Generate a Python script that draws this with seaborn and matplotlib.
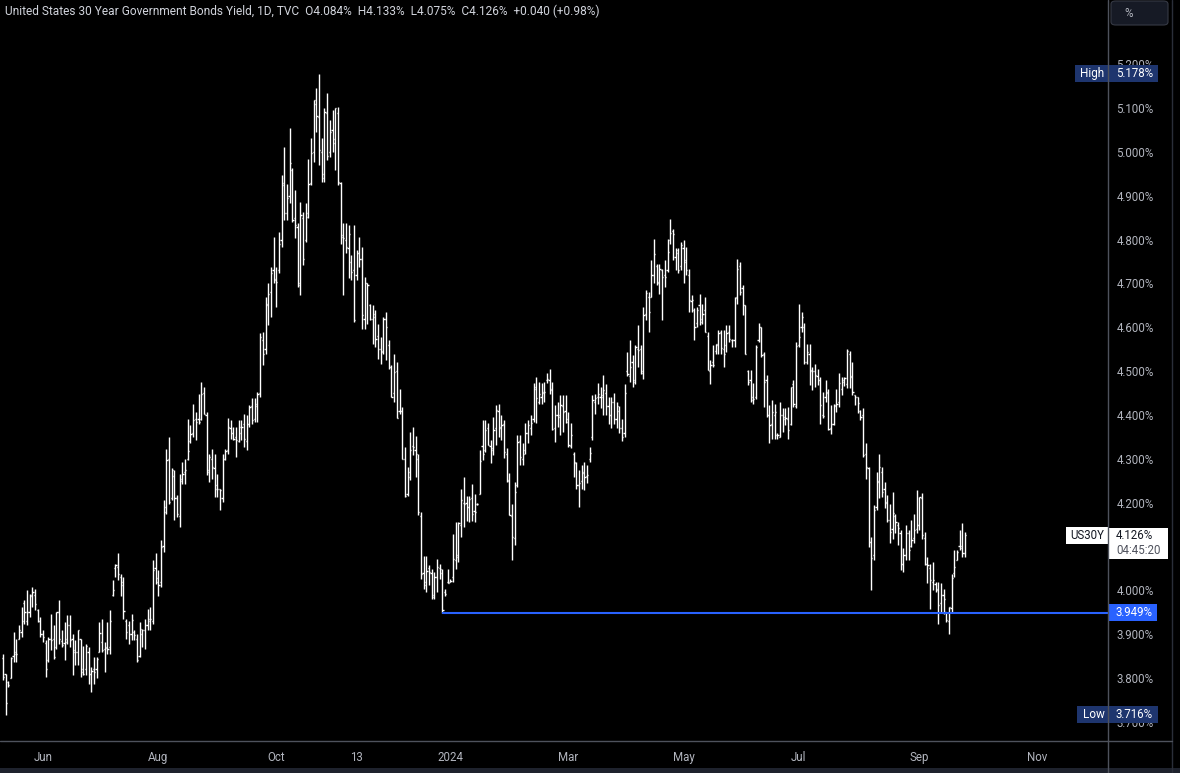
import pandas as pd
import matplotlib.pyplot as plt
import matplotlib.transforms as mtransforms
from matplotlib.lines import Line2D
from matplotlib.patches import Rectangle, FancyBboxPatch
import seaborn as sns

# Daily OHLC of the US 30Y yield (TVC), May 2023 - Sep 2024
opens = [
    3.845, 3.81, 3.79, 3.80, 3.85, 3.86, 3.89, 3.905, 3.97, 3.93, 3.95, 3.99, 3.99, 3.955, 3.931,
    3.90, 3.88, 3.84, 3.89, 3.89, 3.87, 3.95, 3.885, 3.88, 3.89, 3.92, 3.89, 3.86, 3.86, 3.89,
    3.82, 3.82, 3.86, 3.81, 3.82, 3.82, 3.86, 3.882, 3.865, 3.87, 3.87, 3.99, 4.05, 4.053, 4.03,
    4.02, 3.93, 3.92, 3.90, 3.905, 3.89, 3.85, 3.90, 3.91, 3.92, 3.93, 3.93, 4.05, 4.02, 4.02,
    4.10, 4.19, 4.30, 4.21, 4.26, 4.21, 4.17, 4.25, 4.27, 4.30, 4.34, 4.36, 4.39, 4.39, 4.39,
    4.45, 4.40, 4.27, 4.30, 4.28, 4.24, 4.23, 4.21, 4.30, 4.32, 4.37, 4.36, 4.35, 4.34,
    4.36, 4.38, 4.34, 4.38, 4.42, 4.39, 4.42, 4.45, 4.57, 4.55, 4.65, 4.68, 4.73, 4.71, 4.73,
    4.80, 4.93, 4.86, 4.90, 4.96, 4.85, 4.83, 4.70, 4.85, 4.80, 4.86, 4.93, 5.00, 5.11, 5.08,
    5.00, 4.95, 5.09, 5.00, 5.05, 5.03, 5.09, 4.93, 4.81, 4.80, 4.78, 4.75, 4.73, 4.72, 4.77,
    4.757, 4.62, 4.70, 4.65, 4.62, 4.63, 4.58, 4.55, 4.545, 4.62, 4.56, 4.51, 4.45, 4.50, 4.41,
    4.41, 4.30, 4.22, 4.27, 4.33, 4.32, 4.30, 4.17, 4.04, 4.02, 4.05, 4.04, 3.99, 4.03, 4.05,
    4.04, 3.995, 4.02, 4.02, 4.03, 4.07, 4.08, 4.15, 4.20, 4.20, 4.19, 4.21, 4.18, 4.197, 4.22,
    4.33, 4.32, 4.37, 4.33, 4.32, 4.37, 4.41, 4.37, 4.38, 4.31, 4.25, 4.17, 4.12, 4.24, 4.34,
    4.30, 4.32, 4.36, 4.37, 4.39, 4.46, 4.43, 4.44, 4.45, 4.48, 4.48, 4.46, 4.37, 4.40, 4.40,
    4.42, 4.41, 4.39, 4.33, 4.31, 4.29, 4.24, 4.25, 4.27, 4.26, 4.30, 4.35, 4.43, 4.44,
    4.44, 4.44, 4.45, 4.42, 4.40, 4.43, 4.39, 4.41, 4.37, 4.36, 4.50, 4.49, 4.52, 4.48, 4.55,
    4.55, 4.50, 4.63, 4.67, 4.67, 4.72, 4.74, 4.70, 4.73, 4.72, 4.73, 4.80, 4.82, 4.76, 4.77,
    4.74, 4.78, 4.75, 4.72, 4.66, 4.64, 4.61, 4.65, 4.62, 4.64, 4.58, 4.50, 4.52, 4.545, 4.56,
    4.59, 4.55, 4.56, 4.59, 4.57, 4.57, 4.67, 4.74, 4.69, 4.65, 4.50, 4.48, 4.44, 4.44, 4.57,
    4.60, 4.54, 4.48, 4.40, 4.38, 4.40, 4.355, 4.35, 4.40, 4.39, 4.39, 4.38, 4.47, 4.42, 4.56,
    4.60, 4.60, 4.52, 4.54, 4.50, 4.50, 4.49, 4.48, 4.40, 4.44, 4.45, 4.37, 4.38, 4.42, 4.43,
    4.46, 4.48, 4.47, 4.54, 4.49, 4.445, 4.44, 4.41, 4.40, 4.31, 4.28, 4.11, 4.08, 4.19, 4.25,
    4.27, 4.23, 4.20, 4.16, 4.14, 4.17, 4.15, 4.13, 4.06, 4.08, 4.13, 4.10, 4.12, 4.14, 4.15,
    4.21, 4.12, 4.06, 4.05, 4.02, 4.015, 4.00, 3.97, 3.99, 3.95, 3.93, 3.96, 4.04, 4.07, 4.10,
    4.10, 4.084,
]
highs = [
    3.855, 3.81, 3.794, 3.848, 3.905, 3.888, 3.92, 3.962, 3.977, 4.001, 3.992, 4.007, 4.004, 3.958, 3.939,
    3.909, 3.886, 3.893, 3.947, 3.92, 3.95, 3.977, 3.909, 3.928, 3.943, 3.943, 3.90, 3.886, 3.91, 3.89,
    3.874, 3.878, 3.87, 3.825, 3.848, 3.848, 3.928, 3.935, 3.882, 3.928, 3.954, 4.023, 4.061, 4.086, 4.038,
    4.03, 3.935, 3.931, 3.947, 3.909, 3.901, 3.928, 3.912, 3.935, 3.958, 3.962, 4.07, 4.084, 4.046, 4.114,
    4.205, 4.323, 4.35, 4.278, 4.274, 4.217, 4.266, 4.293, 4.30, 4.39, 4.377, 4.426, 4.407, 4.449, 4.476,
    4.464, 4.407, 4.312, 4.323, 4.312, 4.266, 4.232, 4.312, 4.323, 4.392, 4.388, 4.373, 4.373, 4.388,
    4.388, 4.403, 4.40, 4.422, 4.438, 4.438, 4.453, 4.586, 4.59, 4.67, 4.70, 4.738, 4.807, 4.738, 4.818,
    4.947, 5.012, 4.928, 5.054, 4.963, 4.913, 4.837, 4.887, 4.864, 4.883, 4.985, 5.031, 5.119, 5.145, 5.178,
    5.031, 5.10, 5.134, 5.073, 5.096, 5.10, 5.103, 4.932, 4.837, 4.837, 4.833, 4.765, 4.833, 4.776, 4.807,
    4.783, 4.715, 4.70, 4.654, 4.65, 4.639, 4.608, 4.578, 4.624, 4.635, 4.57, 4.513, 4.54, 4.521, 4.46,
    4.418, 4.327, 4.281, 4.361, 4.372, 4.353, 4.312, 4.178, 4.079, 4.079, 4.057, 4.049, 4.041, 4.072, 4.06,
    4.049, 4.003, 4.049, 4.025, 4.129, 4.156, 4.156, 4.232, 4.258, 4.216, 4.216, 4.243, 4.22, 4.20, 4.319,
    4.388, 4.388, 4.381, 4.343, 4.396, 4.423, 4.426, 4.40, 4.388, 4.324, 4.267, 4.198, 4.248, 4.354, 4.354,
    4.335, 4.381, 4.388, 4.40, 4.472, 4.487, 4.476, 4.472, 4.476, 4.495, 4.504, 4.476, 4.423, 4.43, 4.445,
    4.445, 4.445, 4.407, 4.381, 4.316, 4.293, 4.274, 4.286, 4.293, 4.286, 4.327, 4.445, 4.449, 4.472,
    4.464, 4.491, 4.47, 4.44, 4.44, 4.45, 4.43, 4.42, 4.39, 4.47, 4.544, 4.57, 4.536, 4.559, 4.605,
    4.559, 4.646, 4.685, 4.681, 4.753, 4.802, 4.745, 4.745, 4.734, 4.753, 4.802, 4.846, 4.825, 4.78, 4.78,
    4.795, 4.80, 4.783, 4.734, 4.673, 4.643, 4.646, 4.677, 4.654, 4.669, 4.589, 4.525, 4.559, 4.563, 4.593,
    4.594, 4.594, 4.605, 4.605, 4.574, 4.67, 4.757, 4.75, 4.696, 4.651, 4.502, 4.502, 4.472, 4.559, 4.609,
    4.601, 4.544, 4.491, 4.422, 4.434, 4.426, 4.359, 4.43, 4.415, 4.415, 4.418, 4.464, 4.479, 4.567, 4.654,
    4.635, 4.609, 4.563, 4.563, 4.51, 4.517, 4.506, 4.487, 4.453, 4.479, 4.46, 4.422, 4.426, 4.46, 4.495,
    4.487, 4.487, 4.55, 4.545, 4.522, 4.446, 4.442, 4.411, 4.415, 4.335, 4.282, 4.122, 4.194, 4.271, 4.312,
    4.282, 4.248, 4.217, 4.198, 4.225, 4.175, 4.156, 4.137, 4.096, 4.149, 4.137, 4.16, 4.175, 4.229, 4.214,
    4.221, 4.134, 4.076, 4.061, 4.065, 4.019, 4.019, 4.016, 4.004, 3.951, 3.962, 4.038, 4.092, 4.092, 4.137,
    4.153, 4.133,
]
lows = [
    3.795, 3.716, 3.779, 3.80, 3.836, 3.836, 3.89, 3.893, 3.924, 3.92, 3.939, 3.962, 3.954, 3.928, 3.893,
    3.882, 3.802, 3.836, 3.863, 3.844, 3.865, 3.878, 3.87, 3.84, 3.878, 3.87, 3.806, 3.829, 3.829, 3.802,
    3.806, 3.806, 3.787, 3.768, 3.787, 3.80, 3.859, 3.859, 3.813, 3.855, 3.855, 3.988, 4.03, 4.023, 3.988,
    3.935, 3.89, 3.878, 3.886, 3.886, 3.836, 3.848, 3.87, 3.867, 3.909, 3.909, 3.924, 4.015, 3.988, 4.007,
    4.087, 4.175, 4.198, 4.205, 4.16, 4.167, 4.145, 4.243, 4.243, 4.297, 4.335, 4.35, 4.342, 4.38, 4.388,
    4.403, 4.262, 4.247, 4.255, 4.213, 4.213, 4.183, 4.202, 4.297, 4.312, 4.346, 4.342, 4.304, 4.339,
    4.342, 4.327, 4.32, 4.373, 4.38, 4.384, 4.384, 4.441, 4.514, 4.54, 4.605, 4.624, 4.70, 4.647, 4.723,
    4.784, 4.845, 4.845, 4.883, 4.841, 4.803, 4.693, 4.673, 4.742, 4.795, 4.849, 4.925, 4.978, 5.046, 4.97,
    4.932, 4.932, 4.982, 4.989, 5.001, 4.959, 4.925, 4.791, 4.673, 4.769, 4.712, 4.708, 4.613, 4.708, 4.738,
    4.597, 4.597, 4.608, 4.616, 4.563, 4.555, 4.528, 4.517, 4.54, 4.525, 4.506, 4.441, 4.43, 4.392, 4.403,
    4.30, 4.213, 4.216, 4.251, 4.308, 4.258, 4.171, 4.026, 4.003, 3.996, 4.011, 3.98, 3.98, 3.996, 4.026,
    3.949, 3.988, 4.016, 4.019, 4.019, 4.049, 4.064, 4.121, 4.144, 4.159, 4.156, 4.159, 4.156, 4.195, 4.22,
    4.297, 4.316, 4.331, 4.29, 4.308, 4.331, 4.35, 4.343, 4.301, 4.248, 4.171, 4.069, 4.103, 4.236, 4.286,
    4.286, 4.312, 4.335, 4.354, 4.385, 4.381, 4.426, 4.426, 4.43, 4.472, 4.449, 4.366, 4.339, 4.373, 4.354,
    4.362, 4.381, 4.327, 4.324, 4.259, 4.232, 4.19, 4.232, 4.229, 4.244, 4.293, 4.343, 4.403, 4.426,
    4.415, 4.40, 4.40, 4.38, 4.37, 4.38, 4.37, 4.36, 4.34, 4.35, 4.49, 4.475, 4.464, 4.471, 4.51,
    4.494, 4.483, 4.616, 4.589, 4.669, 4.70, 4.696, 4.677, 4.616, 4.692, 4.726, 4.791, 4.753, 4.73, 4.723,
    4.73, 4.70, 4.719, 4.635, 4.635, 4.57, 4.601, 4.605, 4.608, 4.589, 4.502, 4.471, 4.51, 4.54, 4.54,
    4.54, 4.51, 4.544, 4.567, 4.555, 4.555, 4.654, 4.673, 4.628, 4.54, 4.468, 4.43, 4.426, 4.437, 4.567,
    4.533, 4.418, 4.396, 4.335, 4.346, 4.346, 4.346, 4.35, 4.361, 4.377, 4.346, 4.377, 4.418, 4.415, 4.555,
    4.59, 4.517, 4.517, 4.468, 4.456, 4.464, 4.468, 4.38, 4.392, 4.43, 4.365, 4.357, 4.377, 4.407, 4.418,
    4.446, 4.465, 4.461, 4.461, 4.446, 4.423, 4.404, 4.389, 4.305, 4.255, 4.099, 4.00, 4.069, 4.183, 4.21,
    4.214, 4.187, 4.156, 4.107, 4.118, 4.13, 4.103, 4.046, 4.042, 4.069, 4.069, 4.099, 4.107, 4.13, 4.137,
    4.118, 4.057, 4.016, 3.958, 4.00, 3.997, 3.924, 3.951, 3.947, 3.928, 3.901, 3.951, 4.031, 4.069, 4.092,
    4.076, 4.075,
]
closes = [
    3.802, 3.743, 3.785, 3.846, 3.855, 3.855, 3.909, 3.931, 3.95, 3.95, 3.988, 3.996, 3.969, 3.931, 3.90,
    3.893, 3.821, 3.89, 3.886, 3.848, 3.95, 3.89, 3.875, 3.882, 3.92, 3.886, 3.863, 3.859, 3.909, 3.813,
    3.81, 3.872, 3.81, 3.816, 3.813, 3.844, 3.902, 3.863, 3.869, 3.867, 3.931, 4.001, 4.057, 4.038, 4.011,
    3.953, 3.905, 3.901, 3.933, 3.897, 3.842, 3.912, 3.91, 3.92, 3.935, 3.935, 4.046, 4.027, 4.011, 4.099,
    4.179, 4.297, 4.202, 4.274, 4.21, 4.173, 4.255, 4.265, 4.274, 4.318, 4.356, 4.388, 4.384, 4.384, 4.449,
    4.403, 4.274, 4.304, 4.281, 4.232, 4.232, 4.228, 4.30, 4.318, 4.373, 4.358, 4.346, 4.342, 4.373,
    4.373, 4.346, 4.38, 4.419, 4.388, 4.426, 4.449, 4.578, 4.54, 4.654, 4.677, 4.723, 4.708, 4.704, 4.791,
    4.925, 4.86, 4.894, 4.974, 4.845, 4.833, 4.696, 4.856, 4.757, 4.852, 4.927, 4.997, 5.119, 5.082, 5.005,
    4.94, 5.092, 4.99, 5.046, 5.02, 5.10, 4.932, 4.807, 4.803, 4.784, 4.814, 4.727, 4.616, 4.769, 4.757,
    4.627, 4.70, 4.696, 4.62, 4.624, 4.574, 4.551, 4.544, 4.62, 4.601, 4.51, 4.441, 4.498, 4.392, 4.41,
    4.30, 4.216, 4.258, 4.319, 4.327, 4.312, 4.178, 4.038, 4.011, 4.045, 4.041, 3.984, 4.03, 4.053, 4.049,
    3.954, 3.992, 4.016, 4.022, 4.072, 4.076, 4.153, 4.205, 4.196, 4.19, 4.209, 4.175, 4.178, 4.197, 4.296,
    4.312, 4.366, 4.331, 4.324, 4.366, 4.411, 4.373, 4.377, 4.316, 4.251, 4.171, 4.122, 4.225, 4.339, 4.305,
    4.312, 4.358, 4.377, 4.381, 4.464, 4.438, 4.449, 4.453, 4.453, 4.481, 4.457, 4.369, 4.40, 4.396, 4.423,
    4.407, 4.385, 4.331, 4.354, 4.293, 4.24, 4.244, 4.267, 4.259, 4.263, 4.314, 4.434, 4.438, 4.449,
    4.445, 4.457, 4.42, 4.40, 4.43, 4.39, 4.42, 4.37, 4.35, 4.45, 4.494, 4.51, 4.475, 4.555, 4.548,
    4.496, 4.627, 4.678, 4.635, 4.719, 4.768, 4.704, 4.734, 4.715, 4.715, 4.772, 4.815, 4.814, 4.776, 4.73,
    4.787, 4.753, 4.73, 4.663, 4.662, 4.601, 4.64, 4.612, 4.631, 4.589, 4.502, 4.513, 4.513, 4.561, 4.586,
    4.552, 4.54, 4.586, 4.574, 4.572, 4.666, 4.734, 4.681, 4.651, 4.54, 4.476, 4.434, 4.437, 4.555, 4.60,
    4.536, 4.476, 4.40, 4.377, 4.407, 4.407, 4.354, 4.40, 4.396, 4.392, 4.365, 4.464, 4.426, 4.557, 4.578,
    4.624, 4.521, 4.544, 4.502, 4.501, 4.491, 4.479, 4.422, 4.397, 4.453, 4.369, 4.379, 4.422, 4.426, 4.472,
    4.476, 4.484, 4.545, 4.487, 4.453, 4.442, 4.427, 4.395, 4.309, 4.282, 4.111, 4.073, 4.183, 4.248, 4.282,
    4.225, 4.202, 4.16, 4.134, 4.177, 4.156, 4.141, 4.061, 4.08, 4.13, 4.092, 4.115, 4.137, 4.149, 4.214,
    4.126, 4.061, 4.057, 4.023, 4.023, 4.004, 3.966, 3.989, 3.981, 3.932, 3.962, 4.027, 4.054, 4.088, 4.096,
    4.086, 4.126,
]

last_date = '2024-09-25'
support_level = 3.949
support_start = '2023-12-27'

month_labels = ['Jun', 'Aug', 'Oct', '13', '2024', 'Mar', 'May', 'Jul', 'Sep', 'Nov']
month_dates = ['2023-06-01', '2023-08-01', '2023-10-02', '2023-11-13', '2024-01-01',
               '2024-03-01', '2024-05-01', '2024-07-01', '2024-09-02', '2024-11-01']
price_ticks = [5.2, 5.1, 5.0, 4.9, 4.8, 4.7, 4.6, 4.5, 4.4, 4.3, 4.2, 4.0, 3.9, 3.8, 3.7]

title = 'United States 30 Year Government Bonds Yield, 1D, TVC'
ohlc_text = 'O4.084%  H4.133%  L4.075%  C4.126%  +0.040 (+0.98%)'
symbol = 'US30Y'
countdown = '04:45:20'

# ---- data frame ----
dates = pd.bdate_range(end=last_date, periods=len(closes))
df = pd.DataFrame({'date': dates, 'open': opens, 'high': highs, 'low': lows, 'close': closes})
df['i'] = range(len(df))

sns.set_theme(style='dark', rc={'axes.facecolor': 'black', 'figure.facecolor': 'black'})
plt.rcParams['font.family'] = ['Roboto', 'DejaVu Sans']

W, H = 1180, 773
TXT = '#b2b5be'
SEP = '#4e525c'
BLUE = '#2962ff'

fig = plt.figure(figsize=(W / 100, H / 100), dpi=100, facecolor='black')
ax = fig.add_axes([0, 32 / H, 1108 / W, 741 / H])
ax.set_facecolor('black')

# OHLC bars
ax.vlines(df['i'], df['low'], df['high'], color='white', lw=1.0)
ax.hlines(df['open'], df['i'] - 0.45, df['i'], color='white', lw=1.0)
ax.hlines(df['close'], df['i'], df['i'] + 0.45, color='white', lw=1.0)

# scales: 2.68 px per bar, 438.3 px per 1%
px_bar = 2.68
px_val = 438.3
ax.set_xlim(-2.88 / px_bar, (1108 - 2.88) / px_bar)
ax.set_ylim(5.0 - 589 / px_val, 5.0 + 152 / px_val)

# support line from the December low
s_idx = dates.get_loc(pd.Timestamp(support_start))
ax.hlines(support_level, s_idx, ax.get_xlim()[1], color=BLUE, lw=1.5)

# time axis
full_days = pd.bdate_range(start=dates[0], periods=len(dates) + 80)
xpos = full_days.searchsorted(pd.to_datetime(month_dates))
ax.set_xticks(xpos)
ax.set_xticklabels(month_labels)
ax.tick_params(axis='x', length=0, pad=7, labelcolor=TXT, labelsize=8.3)

# price axis
ax.yaxis.tick_right()
ax.set_yticks(price_ticks)
ax.set_yticklabels([f'{v:.3f}%' for v in price_ticks])
ax.tick_params(axis='y', length=0, pad=6, labelcolor=TXT, labelsize=8.3)
ax.grid(False)
sns.despine(ax=ax, left=True, bottom=True, top=True, right=True)

# ---- overlays (figure level) ----
def fx(px):
    return px / W


def fy(py):
    return 1 - py / H


trans = mtransforms.blended_transform_factory(fig.transFigure, ax.transData)
box_h = 17 / px_val


def price_box(x0, x1, v, color, h=box_h):
    fig.add_artist(Rectangle((fx(x0), v - h / 2), fx(x1) - fx(x0), h, transform=trans,
                             facecolor=color, edgecolor='none', zorder=2))


hi = df['high'].max()
lo = df['low'].min()
last = df['close'].iloc[-1]

price_box(1075, 1158, hi, '#1e356e')
fig.text(fx(1080), hi, 'High', transform=trans, color='white', fontsize=8.5, va='center', zorder=3)
fig.text(fx(1116), hi, f'{hi:.3f}%', transform=trans, color='white', fontsize=8.3, va='center', zorder=3)

price_box(1077, 1158, lo, '#1e356e')
fig.text(fx(1083), lo, 'Low', transform=trans, color='white', fontsize=8.5, va='center', zorder=3)
fig.text(fx(1116), lo, f'{lo:.3f}%', transform=trans, color='white', fontsize=8.3, va='center', zorder=3)

price_box(1108, 1157, support_level, BLUE)
fig.text(fx(1116), support_level, f'{support_level:.3f}%', transform=trans, color='white',
         fontsize=8.3, va='center', zorder=3)

# last price label with countdown
price_box(1066, 1108, last, 'white')
fig.add_artist(Rectangle((fx(1108), last - 23.5 / px_val), fx(1168) - fx(1108), 31 / px_val,
                         transform=trans, facecolor='white', edgecolor='none', zorder=2))
fig.text(fx(1070), last, symbol, transform=trans, color='#131722', fontsize=8.3, va='center', zorder=3)
fig.text(fx(1116), last, f'{last:.3f}%', transform=trans, color='#131722', fontsize=8.3,
         va='center', zorder=3)
fig.text(fx(1116), last - 15 / px_val, countdown, transform=trans, color='#50535e', fontsize=8.3,
         va='center', zorder=3)

# separators
fig.add_artist(Line2D([fx(1108), fx(1108)], [0, 1], color=SEP, lw=1, zorder=5))
fig.add_artist(Line2D([fx(1172), fx(1172)], [0, 1], color='#2a2e39', lw=1, zorder=5))
fig.add_artist(Line2D([0, fx(1172)], [fy(741), fy(741)], color=SEP, lw=1, zorder=5))
fig.add_artist(Rectangle((0, 0), 1, 5 / H, transform=fig.transFigure, facecolor='#1e222d',
                         edgecolor='none', zorder=4))

# unit button
fig.add_artist(FancyBboxPatch((fx(1111), fy(25)), fx(1168) - fx(1111), 24 / H,
                              boxstyle='round,pad=0,rounding_size=0.004', transform=fig.transFigure,
                              facecolor='#161a25', edgecolor='#363a45', lw=0.8, zorder=4))
fig.text(fx(1124), fy(13.5), '%', color=TXT, fontsize=8.3, va='center', ha='left', zorder=5)

# header
fig.text(fx(5), fy(11), f'{title}  {ohlc_text}', color='#d1d4dc', fontsize=8.6, va='center',
         ha='left', zorder=5)

fig.savefig('out.png', dpi=100, facecolor='black')
